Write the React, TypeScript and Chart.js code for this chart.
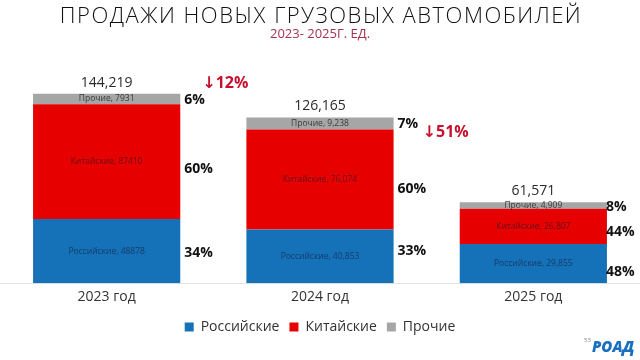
import { useEffect, useRef } from 'react';
import { Chart, registerables } from 'chart.js';

Chart.register(...registerables);

const categories = ['2023 год', '2024 год', '2025 год'];
const russian = [48878, 40853, 29855];
const chinese = [87410, 76074, 26807];
const other = [7931, 9238, 4909];
const totalLabels = ['144,219', '126,165', '61,571'];
const russianLabels = ['Российские, 48878', 'Российские, 40,853', 'Российские, 29,855'];
const chineseLabels = ['Китайские, 87410', 'Китайские, 76,074', 'Китайские, 26,807'];
const otherLabels = ['Прочие, 7931', 'Прочие, 9,238', 'Прочие, 4,909'];
const russianPct = ['34%', '33%', '48%'];
const chinesePct = ['60%', '60%', '44%'];
const otherPct = ['6%', '7%', '8%'];
const changeLabels = ['↓12%', '↓51%'];

const TITLE = 'ПРОДАЖИ НОВЫХ ГРУЗОВЫХ АВТОМОБИЛЕЙ';
const SUBTITLE = '2023- 2025Г. ЕД.';
const FONT = "'Open Sans', 'DejaVu Sans', sans-serif";

// annotation nudges (vertical, px) for percentage texts, per dataset then category
const pctNudge = [
  [2, -5, 8],
  [7, 9, 6],
  [1, 0, 1],
];
const changeOffsets = [
  { dx: 22, dy: -10 },
  { dx: 29, dy: 15 },
];

const overlayPlugin = {
  id: 'overlay',
  afterDatasetsDraw(chart: any) {
    const ctx = chart.ctx;
    const segLabels = [russianLabels, chineseLabels, otherLabels];
    const pctLabels = [russianPct, chinesePct, otherPct];
    ctx.save();
    ctx.textBaseline = 'middle';
    for (let d = 0; d < 3; d++) {
      const meta = chart.getDatasetMeta(d);
      meta.data.forEach((el: any, j: number) => {
        const cy = (el.y + el.base) / 2;
        ctx.textAlign = 'center';
        ctx.font = `8.5px ${FONT}`;
        ctx.fillStyle = d === 2 ? 'rgba(40,40,40,0.85)' : 'rgba(20,20,50,0.6)';
        ctx.fillText(segLabels[d][j], el.x, cy);
        ctx.textAlign = 'left';
        ctx.font = `bold 14px ${FONT}`;
        ctx.fillStyle = '#111';
        const px = Math.min(el.x + el.width / 2 + 4, chart.width - 34);
        ctx.fillText(pctLabels[d][j], px, cy + pctNudge[d][j]);
      });
    }
    const top = chart.getDatasetMeta(2);
    top.data.forEach((el: any, j: number) => {
      ctx.textAlign = 'center';
      ctx.font = `14px ${FONT}`;
      ctx.fillStyle = '#2a2a2a';
      ctx.fillText(totalLabels[j], el.x, el.y - 11);
    });
    changeLabels.forEach((t, j) => {
      const el = top.data[j];
      ctx.textAlign = 'left';
      ctx.font = `bold 16px ${FONT}`;
      ctx.fillStyle = '#c8102e';
      ctx.fillText(t, el.x + el.width / 2 + changeOffsets[j].dx, el.y + changeOffsets[j].dy);
    });
    // header
    ctx.textAlign = 'center';
    ctx.font = `300 22px ${FONT}`;
    ctx.fillStyle = '#111';
    (ctx as any).letterSpacing = '1.5px';
    ctx.fillText(TITLE, chart.width / 2 + 1, 17);
    (ctx as any).letterSpacing = '0px';
    ctx.font = `13px ${FONT}`;
    ctx.fillStyle = '#a3334f';
    ctx.fillText(SUBTITLE, chart.width / 2, 34);
    // footer
    ctx.textAlign = 'left';
    ctx.font = `6px ${FONT}`;
    ctx.fillStyle = '#888';
    ctx.fillText('53', 584, 340);
    ctx.font = `italic 900 15px ${FONT}`;
    ctx.fillStyle = '#1a6fc0';
    ctx.fillText('РОАД', 592, 348);
    ctx.restore();
  },
};

export default function App() {
  const ref = useRef<HTMLCanvasElement | null>(null);
  useEffect(() => {
    if (!ref.current) return;
    const chart = new Chart(ref.current, {
      type: 'bar',
      data: {
        labels: categories,
        datasets: [
          { label: 'Российские', data: russian, backgroundColor: '#1672b8' },
          { label: 'Китайские', data: chinese, backgroundColor: '#e60000' },
          { label: 'Прочие', data: other, backgroundColor: '#a6a6a6' },
        ],
      },
      options: {
        animation: false,
        responsive: true,
        maintainAspectRatio: false,
        datasets: { bar: { barPercentage: 0.69, categoryPercentage: 1 } },
        layout: { padding: { top: 73, left: 0, right: 0, bottom: 16 } },
        scales: {
          x: {
            stacked: true,
            grid: { display: false, drawTicks: false },
            border: { display: true, color: '#e3e3e3' },
            ticks: { color: '#333', font: { family: FONT, size: 14 }, padding: 5 },
          },
          y: { stacked: true, display: false, min: 0, max: 160000 },
        },
        plugins: {
          legend: {
            position: 'bottom',
            labels: {
              boxWidth: 9,
              boxHeight: 9,
              color: '#333',
              font: { family: FONT, size: 14 },
              padding: 10,
            },
          },
          tooltip: { enabled: false },
        },
      },
      plugins: [overlayPlugin],
    });
    return () => chart.destroy();
  }, []);
  return (
    <div style={{ position: 'fixed', left: 0, top: 0, width: 640, height: 360, background: '#fff' }}>
      <canvas ref={ref} />
    </div>
  );
}
